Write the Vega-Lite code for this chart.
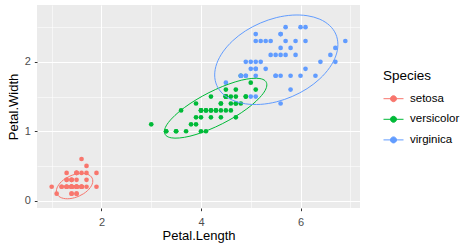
{
"$schema": "https://vega.github.io/schema/vega-lite/v6.json",
"width": 323, "height": 203,
"autosize": {"type": "none"},
"padding": {"left": 37, "top": 5, "right": 114, "bottom": 42},
"background": "white",
"config": {
  "font": "Liberation Sans",
  "view": {"fill": "#EBEBEB", "stroke": null},
  "axis": {"domain": false, "gridColor": "#FFFFFF", "tickColor": "#333333", "tickSize": 2.7, "tickWidth": 1, "labelColor": "#4D4D4D", "labelFontSize": 11, "titleFontSize": 13, "titleColor": "#000000", "titleFontWeight": "normal", "labelFlush": false, "labelOverlap": false}
},
"datasets": {
"iris": [
{"Species":"setosa","PL":1.4,"PW":0.2},{"Species":"setosa","PL":1.4,"PW":0.2},{"Species":"setosa","PL":1.3,"PW":0.2},{"Species":"setosa","PL":1.5,"PW":0.2},{"Species":"setosa","PL":1.4,"PW":0.2},
{"Species":"setosa","PL":1.7,"PW":0.4},{"Species":"setosa","PL":1.4,"PW":0.3},{"Species":"setosa","PL":1.5,"PW":0.2},{"Species":"setosa","PL":1.4,"PW":0.2},{"Species":"setosa","PL":1.5,"PW":0.1},
{"Species":"setosa","PL":1.5,"PW":0.2},{"Species":"setosa","PL":1.6,"PW":0.2},{"Species":"setosa","PL":1.4,"PW":0.1},{"Species":"setosa","PL":1.1,"PW":0.1},{"Species":"setosa","PL":1.2,"PW":0.2},
{"Species":"setosa","PL":1.5,"PW":0.4},{"Species":"setosa","PL":1.3,"PW":0.4},{"Species":"setosa","PL":1.4,"PW":0.3},{"Species":"setosa","PL":1.7,"PW":0.3},{"Species":"setosa","PL":1.5,"PW":0.3},
{"Species":"setosa","PL":1.7,"PW":0.2},{"Species":"setosa","PL":1.5,"PW":0.4},{"Species":"setosa","PL":1.0,"PW":0.2},{"Species":"setosa","PL":1.7,"PW":0.5},{"Species":"setosa","PL":1.9,"PW":0.2},
{"Species":"setosa","PL":1.6,"PW":0.2},{"Species":"setosa","PL":1.6,"PW":0.4},{"Species":"setosa","PL":1.5,"PW":0.2},{"Species":"setosa","PL":1.4,"PW":0.2},{"Species":"setosa","PL":1.6,"PW":0.2},
{"Species":"setosa","PL":1.6,"PW":0.2},{"Species":"setosa","PL":1.5,"PW":0.4},{"Species":"setosa","PL":1.5,"PW":0.1},{"Species":"setosa","PL":1.4,"PW":0.2},{"Species":"setosa","PL":1.5,"PW":0.2},
{"Species":"setosa","PL":1.2,"PW":0.2},{"Species":"setosa","PL":1.3,"PW":0.2},{"Species":"setosa","PL":1.4,"PW":0.1},{"Species":"setosa","PL":1.3,"PW":0.2},{"Species":"setosa","PL":1.5,"PW":0.2},
{"Species":"setosa","PL":1.3,"PW":0.3},{"Species":"setosa","PL":1.3,"PW":0.3},{"Species":"setosa","PL":1.3,"PW":0.2},{"Species":"setosa","PL":1.6,"PW":0.6},{"Species":"setosa","PL":1.9,"PW":0.4},
{"Species":"setosa","PL":1.4,"PW":0.3},{"Species":"setosa","PL":1.6,"PW":0.2},{"Species":"setosa","PL":1.4,"PW":0.2},{"Species":"setosa","PL":1.5,"PW":0.2},{"Species":"setosa","PL":1.4,"PW":0.2},
{"Species":"versicolor","PL":4.7,"PW":1.4},{"Species":"versicolor","PL":4.5,"PW":1.5},{"Species":"versicolor","PL":4.9,"PW":1.5},{"Species":"versicolor","PL":4.0,"PW":1.3},{"Species":"versicolor","PL":4.6,"PW":1.5},
{"Species":"versicolor","PL":4.5,"PW":1.3},{"Species":"versicolor","PL":4.7,"PW":1.6},{"Species":"versicolor","PL":3.3,"PW":1.0},{"Species":"versicolor","PL":4.6,"PW":1.3},{"Species":"versicolor","PL":3.9,"PW":1.4},
{"Species":"versicolor","PL":3.5,"PW":1.0},{"Species":"versicolor","PL":4.2,"PW":1.5},{"Species":"versicolor","PL":4.0,"PW":1.0},{"Species":"versicolor","PL":4.7,"PW":1.4},{"Species":"versicolor","PL":3.6,"PW":1.3},
{"Species":"versicolor","PL":4.4,"PW":1.4},{"Species":"versicolor","PL":4.5,"PW":1.5},{"Species":"versicolor","PL":4.1,"PW":1.0},{"Species":"versicolor","PL":4.5,"PW":1.5},{"Species":"versicolor","PL":3.9,"PW":1.1},
{"Species":"versicolor","PL":4.8,"PW":1.8},{"Species":"versicolor","PL":4.0,"PW":1.3},{"Species":"versicolor","PL":4.9,"PW":1.5},{"Species":"versicolor","PL":4.7,"PW":1.2},{"Species":"versicolor","PL":4.3,"PW":1.3},
{"Species":"versicolor","PL":4.4,"PW":1.4},{"Species":"versicolor","PL":4.8,"PW":1.4},{"Species":"versicolor","PL":5.0,"PW":1.7},{"Species":"versicolor","PL":4.5,"PW":1.5},{"Species":"versicolor","PL":3.5,"PW":1.0},
{"Species":"versicolor","PL":3.8,"PW":1.1},{"Species":"versicolor","PL":3.7,"PW":1.0},{"Species":"versicolor","PL":3.9,"PW":1.2},{"Species":"versicolor","PL":5.1,"PW":1.6},{"Species":"versicolor","PL":4.5,"PW":1.5},
{"Species":"versicolor","PL":4.5,"PW":1.6},{"Species":"versicolor","PL":4.7,"PW":1.5},{"Species":"versicolor","PL":4.4,"PW":1.3},{"Species":"versicolor","PL":4.1,"PW":1.3},{"Species":"versicolor","PL":4.0,"PW":1.3},
{"Species":"versicolor","PL":4.4,"PW":1.2},{"Species":"versicolor","PL":4.6,"PW":1.4},{"Species":"versicolor","PL":4.0,"PW":1.2},{"Species":"versicolor","PL":3.3,"PW":1.0},{"Species":"versicolor","PL":4.2,"PW":1.3},
{"Species":"versicolor","PL":4.2,"PW":1.2},{"Species":"versicolor","PL":4.2,"PW":1.3},{"Species":"versicolor","PL":4.3,"PW":1.3},{"Species":"versicolor","PL":3.0,"PW":1.1},{"Species":"versicolor","PL":4.1,"PW":1.3},
{"Species":"virginica","PL":6.0,"PW":2.5},{"Species":"virginica","PL":5.1,"PW":1.9},{"Species":"virginica","PL":5.9,"PW":2.1},{"Species":"virginica","PL":5.6,"PW":1.8},{"Species":"virginica","PL":5.8,"PW":2.2},
{"Species":"virginica","PL":6.6,"PW":2.1},{"Species":"virginica","PL":4.5,"PW":1.7},{"Species":"virginica","PL":6.3,"PW":1.8},{"Species":"virginica","PL":5.8,"PW":1.8},{"Species":"virginica","PL":6.1,"PW":2.5},
{"Species":"virginica","PL":5.1,"PW":2.0},{"Species":"virginica","PL":5.3,"PW":1.9},{"Species":"virginica","PL":5.5,"PW":2.1},{"Species":"virginica","PL":5.0,"PW":2.0},{"Species":"virginica","PL":5.1,"PW":2.4},
{"Species":"virginica","PL":5.3,"PW":2.3},{"Species":"virginica","PL":5.5,"PW":1.8},{"Species":"virginica","PL":6.7,"PW":2.2},{"Species":"virginica","PL":6.9,"PW":2.3},{"Species":"virginica","PL":5.0,"PW":1.5},
{"Species":"virginica","PL":5.7,"PW":2.3},{"Species":"virginica","PL":4.9,"PW":2.0},{"Species":"virginica","PL":6.7,"PW":2.0},{"Species":"virginica","PL":4.9,"PW":1.8},{"Species":"virginica","PL":5.7,"PW":2.1},
{"Species":"virginica","PL":6.0,"PW":1.8},{"Species":"virginica","PL":4.8,"PW":1.8},{"Species":"virginica","PL":4.9,"PW":1.8},{"Species":"virginica","PL":5.6,"PW":2.1},{"Species":"virginica","PL":5.8,"PW":1.6},
{"Species":"virginica","PL":6.1,"PW":1.9},{"Species":"virginica","PL":6.4,"PW":2.0},{"Species":"virginica","PL":5.6,"PW":2.2},{"Species":"virginica","PL":5.1,"PW":1.5},{"Species":"virginica","PL":5.6,"PW":1.4},
{"Species":"virginica","PL":6.1,"PW":2.3},{"Species":"virginica","PL":5.6,"PW":2.4},{"Species":"virginica","PL":5.5,"PW":1.8},{"Species":"virginica","PL":4.8,"PW":1.8},{"Species":"virginica","PL":5.4,"PW":2.1},
{"Species":"virginica","PL":5.6,"PW":2.4},{"Species":"virginica","PL":5.1,"PW":2.3},{"Species":"virginica","PL":5.1,"PW":1.9},{"Species":"virginica","PL":5.9,"PW":2.3},{"Species":"virginica","PL":5.7,"PW":2.5},
{"Species":"virginica","PL":5.2,"PW":2.3},{"Species":"virginica","PL":5.0,"PW":1.9},{"Species":"virginica","PL":5.2,"PW":2.0},{"Species":"virginica","PL":5.4,"PW":2.3},{"Species":"virginica","PL":5.1,"PW":1.8}
],
"ell": [
{"Species":"setosa","i":0,"ex":1.826,"ey":0.283},{"Species":"setosa","i":1,"ex":1.814,"ey":0.324},{"Species":"setosa","i":2,"ex":1.777,"ey":0.357},{"Species":"setosa","i":3,"ex":1.719,"ey":0.380},
{"Species":"setosa","i":4,"ex":1.643,"ey":0.392},{"Species":"setosa","i":5,"ex":1.555,"ey":0.391},{"Species":"setosa","i":6,"ex":1.460,"ey":0.378},{"Species":"setosa","i":7,"ex":1.365,"ey":0.353},
{"Species":"setosa","i":8,"ex":1.277,"ey":0.319},{"Species":"setosa","i":9,"ex":1.201,"ey":0.277},{"Species":"setosa","i":10,"ex":1.143,"ey":0.230},{"Species":"setosa","i":11,"ex":1.107,"ey":0.183},
{"Species":"setosa","i":12,"ex":1.094,"ey":0.137},{"Species":"setosa","i":13,"ex":1.106,"ey":0.096},{"Species":"setosa","i":14,"ex":1.143,"ey":0.063},{"Species":"setosa","i":15,"ex":1.201,"ey":0.040},
{"Species":"setosa","i":16,"ex":1.277,"ey":0.028},{"Species":"setosa","i":17,"ex":1.365,"ey":0.029},{"Species":"setosa","i":18,"ex":1.460,"ey":0.042},{"Species":"setosa","i":19,"ex":1.555,"ey":0.067},
{"Species":"setosa","i":20,"ex":1.643,"ey":0.101},{"Species":"setosa","i":21,"ex":1.719,"ey":0.143},{"Species":"setosa","i":22,"ex":1.777,"ey":0.190},{"Species":"setosa","i":23,"ex":1.814,"ey":0.237},
{"Species":"versicolor","i":0,"ex":5.323,"ey":1.669},{"Species":"versicolor","i":1,"ex":5.288,"ey":1.728},{"Species":"versicolor","i":2,"ex":5.185,"ey":1.759},{"Species":"versicolor","i":3,"ex":5.022,"ey":1.761},
{"Species":"versicolor","i":4,"ex":4.809,"ey":1.735},{"Species":"versicolor","i":5,"ex":4.560,"ey":1.680},{"Species":"versicolor","i":6,"ex":4.294,"ey":1.602},{"Species":"versicolor","i":7,"ex":4.028,"ey":1.506},
{"Species":"versicolor","i":8,"ex":3.780,"ey":1.398},{"Species":"versicolor","i":9,"ex":3.566,"ey":1.285},{"Species":"versicolor","i":10,"ex":3.403,"ey":1.175},{"Species":"versicolor","i":11,"ex":3.300,"ey":1.077},
{"Species":"versicolor","i":12,"ex":3.265,"ey":0.995},{"Species":"versicolor","i":13,"ex":3.300,"ey":0.936},{"Species":"versicolor","i":14,"ex":3.403,"ey":0.905},{"Species":"versicolor","i":15,"ex":3.566,"ey":0.903},
{"Species":"versicolor","i":16,"ex":3.779,"ey":0.929},{"Species":"versicolor","i":17,"ex":4.028,"ey":0.984},{"Species":"versicolor","i":18,"ex":4.294,"ey":1.062},{"Species":"versicolor","i":19,"ex":4.560,"ey":1.158},
{"Species":"versicolor","i":20,"ex":4.809,"ey":1.266},{"Species":"versicolor","i":21,"ex":5.022,"ey":1.379},{"Species":"versicolor","i":22,"ex":5.185,"ey":1.489},{"Species":"versicolor","i":23,"ex":5.288,"ey":1.587},
{"Species":"virginica","i":0,"ex":6.751,"ey":2.249},{"Species":"virginica","i":1,"ex":6.709,"ey":2.399},{"Species":"virginica","i":2,"ex":6.585,"ey":2.523},{"Species":"virginica","i":3,"ex":6.388,"ey":2.614},
{"Species":"virginica","i":4,"ex":6.132,"ey":2.665},{"Species":"virginica","i":5,"ex":5.833,"ey":2.673},{"Species":"virginica","i":6,"ex":5.513,"ey":2.637},{"Species":"virginica","i":7,"ex":5.193,"ey":2.559},
{"Species":"virginica","i":8,"ex":4.894,"ey":2.446},{"Species":"virginica","i":9,"ex":4.638,"ey":2.304},{"Species":"virginica","i":10,"ex":4.441,"ey":2.143},{"Species":"virginica","i":11,"ex":4.317,"ey":1.975},
{"Species":"virginica","i":12,"ex":4.275,"ey":1.811},{"Species":"virginica","i":13,"ex":4.317,"ey":1.661},{"Species":"virginica","i":14,"ex":4.441,"ey":1.537},{"Species":"virginica","i":15,"ex":4.638,"ey":1.446},
{"Species":"virginica","i":16,"ex":4.894,"ey":1.395},{"Species":"virginica","i":17,"ex":5.193,"ey":1.387},{"Species":"virginica","i":18,"ex":5.513,"ey":1.423},{"Species":"virginica","i":19,"ex":5.833,"ey":1.501},
{"Species":"virginica","i":20,"ex":6.132,"ey":1.614},{"Species":"virginica","i":21,"ex":6.388,"ey":1.756},{"Species":"virginica","i":22,"ex":6.585,"ey":1.917},{"Species":"virginica","i":23,"ex":6.709,"ey":2.085}
]
},
"layer": [
{
  "data": {"name": "iris"},
  "mark": {"type": "point", "filled": true, "size": 22, "opacity": 1},
  "encoding": {
    "x": {"field": "PL", "type": "quantitative", "title": "Petal.Length",
      "scale": {"domain": [0.705, 7.195], "nice": false, "zero": false},
      "axis": {"values": [1,2,3,4,5,6,7], "labelExpr": "datum.value % 2 == 0 ? format(datum.value, 'd') : ''",
        "gridWidth": {"condition": {"test": "datum.value % 2 == 0", "value": 1.1}, "value": 0.55},
        "tickOpacity": {"condition": {"test": "datum.value % 2 == 0", "value": 1}, "value": 0},
        "labelPadding": 5.5, "titlePadding": 2}},
    "y": {"field": "PW", "type": "quantitative", "title": "Petal.Width",
      "scale": {"domain": [-0.106, 2.819], "nice": false, "zero": false},
      "axis": {"values": [0,0.5,1,1.5,2,2.5], "labelExpr": "datum.value % 1 == 0 ? format(datum.value, 'd') : ''",
        "gridWidth": {"condition": {"test": "datum.value % 1 == 0", "value": 1.1}, "value": 0.55},
        "tickOpacity": {"condition": {"test": "datum.value % 1 == 0", "value": 1}, "value": 0},
        "labelPadding": 4, "titlePadding": 4}},
    "color": {"field": "Species", "type": "nominal", "title": "Species",
      "scale": {"domain": ["setosa","versicolor","virginica"], "range": ["#F8766D","#00BA38","#619CFF"]},
      "legend": {"orient": "none", "legendX": 346, "legendY": 64, "padding": 0,
        "titleFontSize": 13.5, "titleFontWeight": "normal", "titleColor": "#000000", "titlePadding": 5.7,
        "labelFontSize": 11.5, "labelColor": "#000000", "labelOffset": 6,
        "symbolType": "M-1,0H1M-0.3,0A0.3,0.3,0,1,1,0.3,0A0.3,0.3,0,1,1,-0.3,0Z",
        "symbolSize": 400, "symbolStrokeWidth": 1, "rowPadding": 4.6,
        "encode": {
          "symbols": {"update": {"fill": {"scale": "color", "field": "value"}, "stroke": {"scale": "color", "field": "value"}, "opacity": {"value": 1}}},
          "entries": {"enter": {"fill": {"value": "#F2F2F2"}, "width": {"value": 20}, "height": {"value": 20}}, "update": {"fill": {"value": "#F2F2F2"}, "width": {"value": 20}, "height": {"value": 20}}}
        }}}
  }
},
{
  "data": {"name": "ell"},
  "mark": {"type": "line", "interpolate": "cardinal-closed", "strokeWidth": 1},
  "encoding": {
    "x": {"field": "ex", "type": "quantitative", "title": "Petal.Length"},
    "y": {"field": "ey", "type": "quantitative", "title": "Petal.Width"},
    "color": {"field": "Species", "type": "nominal", "title": "Species"},
    "order": {"field": "i", "type": "quantitative"}
  }
}
]
}
